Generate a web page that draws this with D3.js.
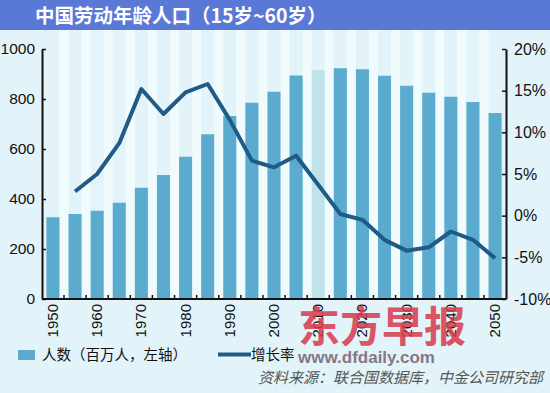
<!DOCTYPE html>
<html>
<head>
<meta charset="utf-8">
<script src="https://cdn.jsdelivr.net/npm/d3@7"></script>
<style>
  body { margin: 0; background: #e2f4f9; }
  svg { display: block; }
  .tick text { font-family: "Liberation Sans", Arial, sans-serif; fill: #111; }
</style>
</head>
<body>
<div id="graphic"></div>
<script>
// years every 5, 1950-2050
const years = [1950, 1955, 1960, 1965, 1970, 1975, 1980, 1985, 1990, 1995, 2000,
  2005, 2010, 2015, 2020, 2025, 2030, 2035, 2040, 2045, 2050];
// working-age population, millions (left axis)
const population = [327, 340, 353, 385, 445, 496, 569, 659, 732, 785, 829,
  894, 916, 923, 919, 893, 853, 825, 809, 788, 744];
// growth rate % (right axis), no value for 1950
const growth = [null, 2.9, 5.0, 8.7, 15.2, 12.2, 14.8, 15.8, 11.5, 6.6, 5.8,
  7.2, 3.7, 0.2, -0.5, -2.9, -4.2, -3.8, -1.9, -2.9, -5.1];
const leftTicks = [0, 200, 400, 600, 800, 1000];
const rightTicks = [-10, -5, 0, 5, 10, 15, 20];
const labelYears = [1950, 1960, 1970, 1980, 1990, 2000, 2010, 2020, 2030, 2040, 2050];
const highlightYear = 2010;

const width = 550, height = 393;
const margin = { top: 49, left: 42, right: 44, bottom: 94 };
const plotBottom = height - margin.bottom; // 299
const cjk = '"Noto Sans CJK SC", sans-serif';

const svg = d3.select('#graphic').append('svg')
  .attr('width', width).attr('height', height);

// background
svg.append('rect').attr('width', width).attr('height', height).attr('fill', '#e2f4f9');

const x = d3.scaleBand()
  .domain(years)
  .range([margin.left, width - margin.right])
  .paddingInner(0.41)
  .paddingOuter(0.2);

const yLeft = d3.scaleLinear().domain([0, 1000]).range([plotBottom, margin.top]);
const yRight = d3.scaleLinear().domain([-10, 20]).range([plotBottom, margin.top]);

// pale stripes in the gaps between bars
const step = x.step();
svg.append('g')
  .selectAll('rect')
  .data(years.slice(1))
  .join('rect')
  .attr('x', d => x(d) - step * x.paddingInner())
  .attr('y', 30)
  .attr('width', step * x.paddingInner())
  .attr('height', plotBottom - 30)
  .attr('fill', '#f0fbfd');

// title bar
svg.append('rect').attr('width', width).attr('height', 30).attr('fill', '#5a78d6');
svg.append('text')
  .attr('x', 35).attr('y', 23)
  .attr('fill', '#fff')
  .style('font-family', cjk)
  .style('font-weight', 'bold')
  .style('font-size', '19.5px')
  .text('中国劳动年龄人口（15岁~60岁）');

// bars
svg.append('g')
  .selectAll('rect')
  .data(years.map((d, i) => ({ year: d, value: population[i] })))
  .join('rect')
  .attr('x', d => x(d.year))
  .attr('y', d => yLeft(d.value))
  .attr('width', x.bandwidth())
  .attr('height', d => plotBottom - yLeft(d.value))
  .attr('fill', d => d.year === highlightYear ? '#bfe3ea' : '#5aabcd');

// growth line
const lineData = years.map((d, i) => ({ year: d, value: growth[i] })).filter(d => d.value !== null);
svg.append('path')
  .datum(lineData)
  .attr('fill', 'none')
  .attr('stroke', '#1f5b86')
  .attr('stroke-width', 4)
  .attr('stroke-linejoin', 'round')
  .attr('d', d3.line()
    .x(d => x(d.year) + x.bandwidth() / 2)
    .y(d => yRight(d.value)));

// left axis
const gLeft = svg.append('g')
  .attr('transform', 'translate(' + margin.left + ',0)')
  .call(d3.axisLeft(yLeft).tickValues(leftTicks).tickFormat(d3.format('d'))
    .tickSize(-4).tickPadding(7).tickSizeOuter(0));
gLeft.selectAll('text').style('font-size', '15.5px');

// right axis
const gRight = svg.append('g')
  .attr('transform', 'translate(' + (width - margin.right) + ',0)')
  .call(d3.axisRight(yRight).tickValues(rightTicks)
    .tickFormat(d => d + '%').tickSize(-4).tickPadding(8).tickSizeOuter(0));
gRight.selectAll('text').style('font-size', '16px');

// bottom axis: ticks at band edges, labels every 10 years
const gBottom = svg.append('g')
  .attr('transform', 'translate(0,' + plotBottom + ')');
gBottom.append('line')
  .attr('x1', margin.left).attr('x2', width - margin.right)
  .attr('stroke', '#111').attr('stroke-width', 2);
gBottom.selectAll('line.edge')
  .data(years.slice(1))
  .join('line')
  .attr('class', 'edge')
  .attr('x1', d => x(d) - step * x.paddingInner() / 2)
  .attr('x2', d => x(d) - step * x.paddingInner() / 2)
  .attr('y1', 0).attr('y2', -4)
  .attr('stroke', '#111').attr('stroke-width', 1.5);
gBottom.selectAll('text')
  .data(labelYears)
  .join('text')
  .attr('transform', d => 'translate(' + (x(d) + x.bandwidth() / 2 + 5) + ',5) rotate(-90)')
  .attr('text-anchor', 'end')
  .style('font-family', '"Liberation Sans", Arial, sans-serif')
  .style('font-size', '15px')
  .attr('fill', '#111')
  .text(d => d);

svg.selectAll('.domain').attr('stroke', '#111').attr('stroke-width', 2);
svg.selectAll('.tick line').attr('stroke', '#111').attr('stroke-width', 1.5);

// legend
const legend = svg.append('g');
legend.append('rect').attr('x', 18).attr('y', 350).attr('width', 17).attr('height', 10).attr('fill', '#5aabcd');
legend.append('text').attr('x', 42).attr('y', 360)
  .style('font-family', cjk).style('font-size', '14.5px').attr('fill', '#111')
  .text('人数（百万人，左轴）');
legend.append('line').attr('x1', 218).attr('x2', 251).attr('y1', 354.5).attr('y2', 354.5)
  .attr('stroke', '#1f5b86').attr('stroke-width', 4);
legend.append('text').attr('x', 251).attr('y', 360)
  .style('font-family', cjk).style('font-size', '14.5px').attr('fill', '#111')
  .text('增长率');

// source
svg.append('text')
  .attr('x', 543).attr('y', 383)
  .attr('text-anchor', 'end')
  .style('font-family', cjk).style('font-style', 'italic').style('font-size', '15px')
  .attr('fill', '#555')
  .text('资料来源：联合国数据库，中金公司研究部');

// newspaper watermark
svg.append('text')
  .attr('x', 298).attr('y', 342)
  .style('font-family', cjk).style('font-weight', 'bold').style('font-size', '42px')
  .attr('fill', '#d83a4c').attr('opacity', 0.85)
  .text('东方早报');
svg.append('text')
  .attr('x', 298).attr('y', 363)
  .style('font-family', '"Liberation Sans", Arial, sans-serif').style('font-weight', 'bold').style('font-size', '17px')
  .attr('fill', '#7a6a78').attr('opacity', 0.9)
  .text('www.dfdaily.com');
</script>
</body>
</html>
